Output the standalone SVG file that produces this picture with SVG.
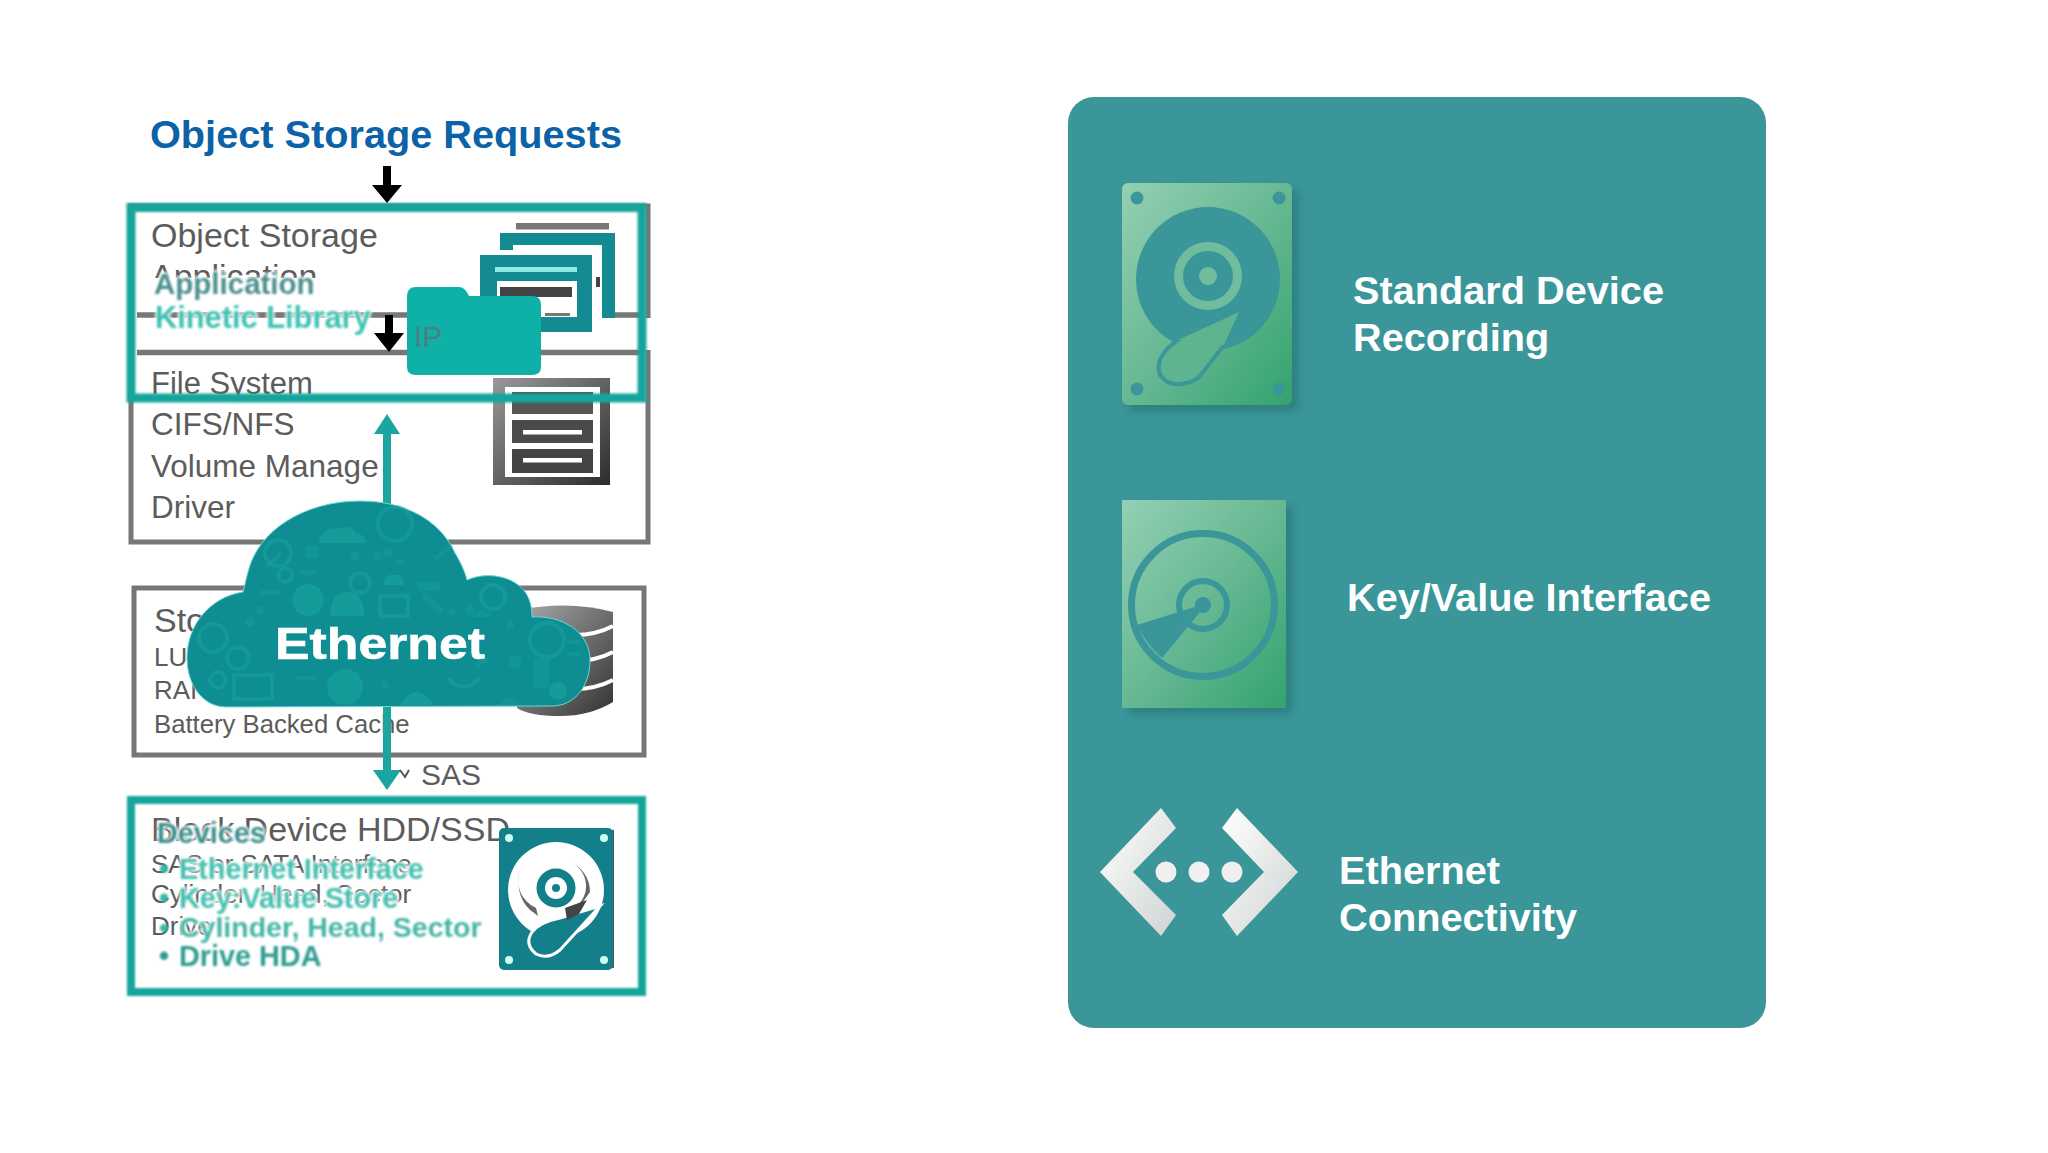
<svg xmlns="http://www.w3.org/2000/svg" width="2048" height="1153" viewBox="0 0 2048 1153">
<style>
text{font-family:"Liberation Sans",Arial,sans-serif}
.b{fill:#5c5c5c}
.s34{font-size:34px}.s31{font-size:31.5px}.s26{font-size:26px}
.g{font-weight:700;font-size:28.8px}
.w{fill:#fff;font-weight:700;font-size:39.7px}
.grayBox{fill:#fff;stroke:#777;stroke-width:5}
.tealBox{fill:none;stroke:#17a59b;stroke-width:9}
.halo{fill:#fff;stroke:#fff;stroke-width:3;filter:url(#bl2)}
.cl{fill:#1ba8a0;opacity:.55}
.cl2{fill:#1ba8a0;opacity:.3}
.clr{fill:none;stroke:#1ba8a0;stroke-width:4;opacity:.45}
.hole{fill:#3b9699}
</style>
<defs>
<linearGradient id="gr" x1="0" y1="0" x2="1" y2="1"><stop offset="0" stop-color="#94d0b4"/><stop offset=".55" stop-color="#62b690"/><stop offset="1" stop-color="#33a36e"/></linearGradient>
<linearGradient id="wh" x1="0" y1="0" x2="1" y2="1"><stop offset="0" stop-color="#fff"/><stop offset="1" stop-color="#cfd3d3"/></linearGradient>
<linearGradient id="dk" x1="0" y1="0" x2="1" y2="1"><stop offset="0" stop-color="#999"/><stop offset="1" stop-color="#2c2c2c"/></linearGradient>
<linearGradient id="dk2" x1="0" y1="0" x2="1" y2="1"><stop offset="0" stop-color="#aaa"/><stop offset="1" stop-color="#333"/></linearGradient>
<filter id="sh" x="-10%" y="-10%" width="125%" height="125%"><feDropShadow dx="6" dy="6" stdDeviation="4" flood-color="#1f6d6e" flood-opacity=".55"/></filter>
<filter id="bl" x="-5%" y="-20%" width="110%" height="140%"><feGaussianBlur stdDeviation=".8"/></filter>
<filter id="bl2" x="-5%" y="-20%" width="110%" height="140%"><feGaussianBlur stdDeviation="1.5"/></filter>
<filter id="gl" x="-5%" y="-5%" width="110%" height="110%"><feGaussianBlur stdDeviation=".9"/></filter>
<clipPath id="cApp"><rect x="140" y="258" width="300" height="20"/></clipPath>
</defs>

<g id="title"><text x="150" y="148" font-size="39.7" font-weight="700" fill="#0b62a6">Object Storage Requests</text></g>

<g id="node-host">
<rect class="grayBox" x="131" y="206" width="517" height="336"/>
<rect x="630" y="318" width="25" height="32" fill="#fff"/>
<path d="M137 315H640M137 352.500H640" stroke="#777" stroke-width="5.500" fill="none"/>
<text class="b s34" x="151" y="247">Object Storage</text>
<text class="b s34" x="151" y="288" clip-path="url(#cApp)">Application</text>
<text class="b" font-size="31" x="151" y="394">File System</text>
<text class="b s31" x="151" y="435">CIFS/NFS</text>
<text class="b s31" x="151" y="477">Volume Manage</text>
<text class="b s31" x="151" y="518">Driver</text>
<g id="icon-server">
<rect x="493" y="378" width="117" height="107" fill="url(#dk)"/>
<rect x="505" y="387" width="95" height="90" fill="#fff"/>
<rect x="512" y="392" width="81" height="22" fill="#555"/><rect x="512" y="420" width="81" height="23" fill="#4a4a4a"/><rect x="512" y="449" width="81" height="24" fill="#444"/>
<rect x="523" y="430" width="59" height="4.500" fill="#fff"/><rect x="523" y="458" width="59" height="4.500" fill="#fff"/>
</g>
</g>

<g id="node-controller">
<rect class="grayBox" x="134" y="588" width="510" height="167"/>
<text class="b s34" x="154" y="632">Sto</text>
<text class="b s26" x="154" y="666">LU</text>
<text class="b s26" x="154" y="699">RAI</text>
<text class="b" font-size="25.700" x="154" y="733">Battery Backed Cache</text>
<g id="icon-db">
<path d="M517 610Q570 600 613 612V702Q590 716 560 716Q530 716 517 708Z" fill="url(#dk2)"/>
<path d="M560 634Q590 638 613 626M560 660Q590 664 613 652M560 688Q590 692 613 680" stroke="#fff" stroke-width="4" fill="none"/>
</g>
</g>

<g id="node-device">
<text class="b s34" x="151" y="841">Block Device HDD/SSD</text>
<text class="b" font-size="26" x="151" y="873">SAS or SATA Interface</text>
<text class="b" font-size="26" x="151" y="903">Cylinder, Head, Sector</text>
<text class="b" font-size="26" x="151" y="935">Drive</text>
<g class="halo" font-weight="700" font-size="28.8">
<text x="157" y="843">Devices</text><text x="179" y="879">Ethernet Interface</text><text x="179" y="908">Key:Value Store</text><text x="179" y="937">Cylinder, Head, Sector</text><text x="179" y="966">Drive HDA</text>
</g>
<g filter="url(#bl)">
<text class="g" x="157" y="843" fill="#3e8f8b">Devices</text>
<text class="g" x="159" y="879" fill="#36b9a8">•</text><text class="g" x="179" y="879" fill="#45bfb0">Ethernet Interface</text>
<text class="g" x="159" y="908" fill="#36b9a8">•</text><text class="g" x="179" y="908" fill="#45bfb0">Key:Value Store</text>
<text class="g" style="font-size:28.5px" x="159" y="937" fill="#36b9a8">•</text><text class="g" style="font-size:28.5px" x="179" y="937" fill="#45b5a6">Cylinder, Head, Sector</text>
<text class="g" x="159" y="966" fill="#2f9d90">•</text><text class="g" x="179" y="966" fill="#2f9d90">Drive HDA</text>
</g>
<g id="icon-hdd">
<path d="M608 830h6v138h-6z" fill="#555"/>
<rect x="499" y="828" width="114" height="142" rx="5" fill="#127f8b"/>
<circle cx="509" cy="838" r="4" fill="#cfe"/><circle cx="604" cy="838" r="4" fill="#cfe"/><circle cx="509" cy="960" r="4" fill="#cfe"/><circle cx="604" cy="960" r="4" fill="#cfe"/>
<circle cx="556" cy="890" r="48" fill="#fff"/>
<path d="M520 870a40 40 0 0 0 10 40q6 4 8 6l-2-8a30 30 0 0 1-16-38ZM570 862a32 32 0 0 1 20 30l-10 14-6 2a26 26 0 0 0-4-46Z" fill="#666"/>
<circle cx="556" cy="888" r="21" fill="#127f8b" stroke="#fff" stroke-width="3"/><circle cx="556" cy="888" r="11" fill="#fff"/><circle cx="556" cy="888" r="4" fill="#127f8b"/>
<path d="M600 906 L560 950Q548 960 536 954Q524 944 532 932Q540 922 560 918Z" fill="#127f8b" stroke="#fff" stroke-width="3"/>
<path d="M565 908l22-8-8 14-12 6Z" fill="#444"/>
</g>
</g>

<g id="node-kinetic">
<g class="halo" font-weight="700"><text x="154" y="294" font-size="29.500">Application</text><text x="155" y="328" font-size="30.800">Kinetic Library</text></g>
<g filter="url(#bl)">
<text class="g" style="font-size:29.500px" x="154" y="294" fill="#4a8f8d">Application</text>
<text class="g" style="font-size:30.800px" x="155" y="328" fill="#3fc2b2">Kinetic Library</text>
</g>
<g id="icon-windows">
<rect x="516" y="223" width="93" height="6.500" fill="#777"/>
<path d="M500 233H615V318H602V245H513V250H500Z" fill="#148a92"/>
<rect x="513" y="245" width="89" height="73" fill="#fff"/>
<rect x="480" y="255" width="112" height="77" fill="#148a92"/>
<rect x="495" y="267" width="82" height="5" fill="#8cebe6"/>
<rect x="497" y="281" width="80" height="36" fill="#fff"/>
<rect x="500" y="287" width="72" height="10" fill="#444"/>
<rect x="545" y="313" width="25" height="3" fill="#777"/>
<rect x="596" y="277" width="4" height="10" fill="#444"/>
</g>
<g id="icon-folder">
<path d="M407 296q0-9 9-9h43q6 0 10 9h63q9 0 9 9v62q0 8-9 8H416q-9 0-9-8Z" fill="#0fb0a8"/>
<text x="414" y="347" font-size="30" fill="#4b7f80">IP</text>
</g>
<rect class="tealBox" x="131" y="207.500" width="511" height="190.500" filter="url(#gl)"/>
</g>

<g id="node-block">
<rect class="tealBox" style="stroke-width:8" x="131" y="800" width="511" height="192" filter="url(#gl)"/>
</g>

<g id="connectors">
<path d="M383 166h8v19h11l-15 18-15-18h11Z" fill="#000"/>
<path d="M385 315h8v18h11l-15 19-15-19h11Z" fill="#000"/>
<path d="M383 510V434h-9l13-20 13 20h-9V510Z" fill="#1aa5a0"/>
<path d="M383 700V770h-10l14 20 14-20h-10V700Z" fill="#1aa5a0"/>
</g>
<g id="label-sas"><path d="M400 770l5 7 4-7" fill="none" stroke="#555" stroke-width="2"/><text x="421" y="785" font-size="30" class="b">SAS</text></g>

<g id="node-ethernet">
<path d="M226 707C203 707 187 685 187 658C187 625 210 597 243 592C245 585 246 578 248 572C258 530 305 501 360 501C405 501 440 520 455 553C461 563 465 572 467 580C490 570 518 578 527 595C531 602 532 610 532 617C562 615 590 632 590 660C590 686 575 706 552 706Z" fill="#0e8d93" stroke="#6fd8d2" stroke-width="1"/>
<g>
<circle class="clr" cx="395" cy="524" r="17"/><path class="cl" d="M318 543q6-18 20-14q12-6 18 4q8 0 10 10Z"/>
<circle class="clr" cx="278" cy="553" r="13"/><circle class="cl" cx="308" cy="600" r="16"/><path class="cl" d="M330 616q0-24 17-24t17 24Z"/><rect class="clr" x="380" y="596" width="28" height="20"/>
<circle class="clr" cx="360" cy="583" r="10"/><path class="cl" d="M384 585q0-12 10-10q10-2 10 10Z"/><circle class="clr" cx="285" cy="575" r="7"/><rect class="cl2" x="260" y="590" width="22" height="5" rx="2"/>
<rect class="cl2" x="300" y="570" width="16" height="5" rx="2"/><rect class="cl2" x="418" y="582" width="22" height="9" rx="2"/><rect class="cl2" x="420" y="600" width="26" height="7" rx="3" transform="rotate(45 433 603)"/>
<circle class="cl2" cx="377" cy="556" r="4"/><circle class="cl2" cx="387" cy="553" r="5"/><circle class="cl2" cx="400" cy="562" r="4"/><circle class="cl2" cx="355" cy="556" r="5"/><rect class="cl2" x="432" y="550" width="22" height="5" transform="rotate(-40 443 552)"/><rect class="cl2" x="305" y="546" width="14" height="12"/><rect class="cl2" x="262" y="558" width="22" height="5" transform="rotate(-45 273 560)"/>
<circle class="clr" cx="493" cy="597" r="12"/><circle class="cl2" cx="470" cy="610" r="5"/><circle class="cl2" cx="452" cy="612" r="4"/><path class="cl2" d="M470 617q12-14 24 0Z"/><circle class="cl2" cx="510" cy="625" r="4"/>
<circle class="clr" cx="547" cy="640" r="17"/><circle class="cl" cx="345" cy="687" r="18"/><circle class="clr" cx="238" cy="658" r="11"/><circle class="clr" cx="213" cy="638" r="14"/><circle class="clr" cx="218" cy="680" r="8"/>
<rect class="clr" x="234" y="675" width="38" height="24"/><path class="cl" d="M400 705q16-26 34 0Z"/><path class="clr" d="M448 678q15 18 32 0"/><rect class="cl2" x="533" y="658" width="16" height="30"/><circle class="cl" cx="558" cy="691" r="9"/><circle class="cl2" cx="515" cy="662" r="7"/><path class="cl2" d="M500 705q10-16 20 0Z"/>
<circle class="cl2" cx="250" cy="622" r="5"/><circle class="cl2" cx="260" cy="610" r="4"/><rect class="cl2" x="295" y="676" width="22" height="4"/><circle class="cl2" cx="385" cy="685" r="4"/><rect class="cl2" x="475" y="660" width="15" height="5" transform="rotate(-30 482 662)"/><rect class="cl2" x="567" y="640" width="12" height="4"/><rect class="cl2" x="567" y="652" width="12" height="4"/><rect class="cl2" x="285" y="628" width="22" height="5"/>
</g>
<text x="275" y="659" font-size="45" font-weight="700" fill="#fff" stroke="#fff" stroke-width=".6" textLength="210" lengthAdjust="spacingAndGlyphs">Ethernet</text>
</g>

<g id="panel">
<rect x="1068" y="97" width="698" height="931" rx="26" fill="#3b9699"/>
</g>
<g id="node-standard">
<g filter="url(#sh)"><rect x="1122" y="183" width="170" height="222" rx="6" fill="url(#gr)"/></g>
<g class="hole"><circle cx="1137" cy="198" r="6.500"/><circle cx="1279" cy="198" r="6.500"/><circle cx="1137" cy="389" r="6.500"/><circle cx="1279" cy="389" r="6.500"/></g>
<circle cx="1208" cy="279" r="72" class="hole"/>
<circle cx="1208" cy="276" r="29.500" fill="none" stroke="#6fbd9c" stroke-width="9"/><circle cx="1208" cy="276" r="9" fill="#6fbd9c"/>
<path d="M1239 312L1178 340L1168 348Q1155 362 1160 375Q1170 388 1186 383Q1194 382 1200 376L1224 345Z" fill="#5db48e" stroke="#3b9699" stroke-width="4"/>
<path d="M1239 312L1178 340L1224 345Z" fill="#5db48e"/>
<text class="w" x="1353" y="304">Standard Device</text><text class="w" x="1353" y="351">Recording</text>
</g>
<g id="node-keyvalue">
<g filter="url(#sh)"><rect x="1122" y="500" width="164" height="208" fill="url(#gr)"/></g>
<circle cx="1203" cy="605" r="71.500" fill="none" stroke="#3b9699" stroke-width="7"/>
<circle cx="1203" cy="605" r="24" fill="none" stroke="#3b9699" stroke-width="6"/><circle cx="1203" cy="605" r="8" class="hole"/>
<path d="M1137 625L1198 606L1201 611L1162 658Q1146 644 1137 625Z" class="hole"/>
<text class="w" x="1347" y="611">Key/Value Interface</text>
</g>
<g id="node-ethernet-connectivity">
<g fill="url(#wh)"><path d="M1161 808L1176 828L1133 872L1176 915L1161 936L1100 872Z"/><path d="M1237 808L1222 828L1264 872L1222 915L1237 936L1298 872Z"/></g>
<g fill="#f0f0f0"><circle cx="1166" cy="872" r="10.500"/><circle cx="1199" cy="872" r="10.500"/><circle cx="1232" cy="872" r="10.500"/></g>
<text class="w" x="1339" y="884">Ethernet</text><text class="w" x="1339" y="931">Connectivity</text>
</g>
</svg>
